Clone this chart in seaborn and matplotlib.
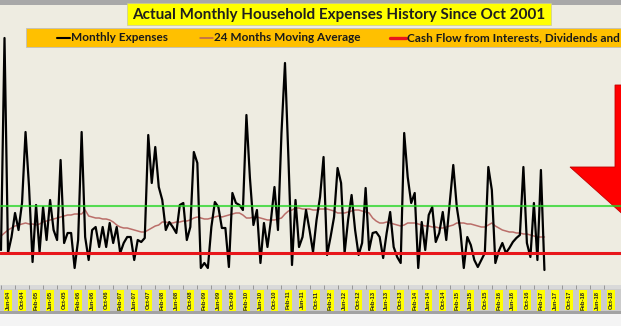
import numpy as np
import pandas as pd
import matplotlib
matplotlib.use("Agg")
import matplotlib.pyplot as plt
import seaborn as sns
from matplotlib.patches import Rectangle, Polygon
from matplotlib.lines import Line2D

# ---- data -------------------------------------------------------------
months = pd.date_range("2004-04-01", periods=156, freq="MS")

monthly_expenses = [
    2060, 6300, 2000, 2320, 2800, 2460, 3000, 4420, 3320, 1820,
    2960, 2020, 2920, 2260, 3060, 2460, 2260, 3860, 2200, 2400,
    2400, 1700, 2260, 4420, 2320, 1860, 2460, 2520, 2120, 2520,
    2120, 2600, 2200, 2520, 2000, 2200, 2320, 2320, 1860, 2260,
    2220, 2300, 4360, 3400, 4120, 3320, 3060, 2460, 2620, 2520,
    2400, 2960, 3000, 2260, 2520, 4020, 3800, 1700, 1800, 1700,
    2520, 3020, 2920, 2500, 2500, 1720, 3200, 3000, 2960, 2860,
    4760, 3500, 2560, 2860, 1800, 2600, 2120, 2660, 3320, 2460,
    4400, 5800, 3860, 1760, 3060, 2120, 2320, 2860, 2460, 2020,
    2660, 3120, 3920, 1960, 2320, 2720, 3700, 3400, 2000, 2660,
    3160, 2460, 1960, 2200, 3300, 2060, 2400, 2420, 2320, 1900,
    2400, 2820, 2120, 1920, 1800, 4400, 3520, 3000, 3200, 1700,
    2620, 2060, 2760, 2920, 2220, 2400, 2820, 2260, 3000, 3760,
    2920, 2460, 1700, 2320, 2160, 1860, 1720, 1860, 2000, 3720,
    3260, 1800, 2040, 2200, 2000, 2100, 2220, 2300, 2360, 3720,
    2200, 1920, 3000, 1860, 3660, 1660,
]

moving_average_24m = [
    2340, 2400, 2460, 2500, 2540, 2560, 2580, 2600, 2580, 2580,
    2560, 2580, 2620, 2640, 2660, 2680, 2700, 2720, 2740, 2760,
    2760, 2780, 2780, 2780, 2860, 2740, 2720, 2700, 2700, 2680,
    2680, 2660, 2620, 2560, 2520, 2500, 2500, 2480, 2460, 2440,
    2420, 2420, 2460, 2500, 2540, 2560, 2620, 2620, 2600, 2600,
    2620, 2620, 2640, 2640, 2660, 2700, 2720, 2700, 2680, 2680,
    2700, 2720, 2740, 2720, 2740, 2760, 2780, 2800, 2800, 2760,
    2700, 2700, 2720, 2720, 2700, 2680, 2660, 2660, 2660, 2680,
    2700, 2780, 2840, 2860, 2900, 2900, 2880, 2880, 2880, 2860,
    2860, 2880, 2880, 2880, 2860, 2840, 2800, 2800, 2800, 2820,
    2840, 2860, 2860, 2840, 2820, 2800, 2700, 2640, 2600, 2600,
    2620, 2600, 2580, 2560, 2540, 2560, 2600, 2600, 2600, 2580,
    2560, 2540, 2540, 2520, 2520, 2500, 2500, 2520, 2540, 2560,
    2600, 2600, 2600, 2580, 2580, 2560, 2540, 2520, 2520, 2560,
    2600, 2540, 2500, 2460, 2440, 2420, 2420, 2400, 2400, 2380,
    2380, 2360, 2340, 2320, 2320, 2320,
]

cash_flow_level = 2000      # cash flow from interests, dividends, ...
spending_limit = 2940       # green reference level

tick_dates = pd.date_range("2004-06-01", "2018-10-01", freq="4MS")
tick_labels = tick_dates.strftime("%b-%y").tolist()

title_text = "Actual Monthly Household Expenses History Since Oct 2001"
legend_labels = ["Monthly Expenses", "24 Months Moving Average",
                 "Cash Flow from Interests, Dividends and"]

# ---- styling ------------------------------------------------------------
sns.set_theme(style="white")
plt.rcParams["font.family"] = ["Lato", "DejaVu Sans"]
label_family = ["Liberation Sans Narrow", "Liberation Sans"]

W, H = 621, 326
fig = plt.figure(figsize=(W / 100, H / 100), dpi=100, facecolor="#F4F4F4")
renderer = fig.canvas.get_renderer()


def fx(x):
    return x / W


def fy(y):
    return 1 - y / H


def fit(t, length_px, vertical=False):
    bb = t.get_window_extent(renderer)
    cur = bb.height if vertical else bb.width
    t.set_fontsize(t.get_fontsize() * length_px / cur)
    return t.get_fontsize()


ax = fig.add_axes([0, fy(285), 1, 285 / H])
ax.set_facecolor("#EEECE1")

start = months[0]
df = pd.DataFrame({
    "pos": (months.year - start.year) * 12 + months.month - start.month,
    "expenses": monthly_expenses,
    "avg24": moving_average_24m,
})

sns.lineplot(data=df, x="pos", y="expenses", color="black", lw=1.6,
             ax=ax, zorder=4)
sns.lineplot(data=df, x="pos", y="avg24", color="#B5605C", lw=1.1,
             alpha=0.9, ax=ax, zorder=3)
ax.axhline(cash_flow_level, color="#E8161B", lw=2.2, zorder=5)
ax.axhline(spending_limit, color="#22D622", lw=1.5, alpha=0.75, zorder=6)

# big red "down" arrow at the right edge
arrow_px = [(615, 85), (679, 85), (679, 167), (724, 167), (647, 236),
            (570, 167), (615, 167)]
ax.add_patch(Polygon([(fx(x), fy(y)) for x, y in arrow_px], closed=True,
                     transform=fig.transFigure, fc="#FF0000", ec="#C00000",
                     lw=0.6, clip_on=False, zorder=5.5))

ax.set_xlim(-0.285, 176.84)
ax.set_ylim(1360, 7060)
ax.set_xlabel("")
ax.set_ylabel("")
ax.set_yticks([])
for s in ax.spines.values():
    s.set_visible(False)

# category labels: rotated, each on its own yellow tag
tick_pos = (tick_dates.year - start.year) * 12 + tick_dates.month - start.month
probe = fig.text(0, 0, tick_labels[0], rotation=90, fontsize=5,
                 fontweight="bold", family=label_family)
label_size = fit(probe, 19, vertical=True)
probe.remove()

ax.set_xticks(tick_pos)
ax.set_xticklabels(tick_labels, rotation=90, fontsize=label_size,
                   fontweight="bold", family=label_family,
                   color="#222222")
for lbl in ax.get_xticklabels():
    lbl.set_bbox(dict(boxstyle="square,pad=0.2", fc="#FFFF00", ec="none"))
ax.set_xticks(tick_pos - 2, minor=True)
ax.tick_params(axis="x", which="major", length=0, pad=4.2, bottom=True)
ax.tick_params(axis="x", which="minor", length=3, width=0.6,
               color="#8C8C8C", bottom=True, direction="out")

# bands around the category labels
for y0, y1, c in [(285, 289, "#D9D9D9"), (289, 311, "#CBCBCB"),
                  (311, 314, "#A3A3A3")]:
    fig.add_artist(Rectangle((0, fy(y1)), 1, (y1 - y0) / H,
                             transform=fig.transFigure, fc=c, ec="none",
                             zorder=-1))

# top strip and title
fig.add_artist(Rectangle((0, fy(5)), 1, 5 / H, transform=fig.transFigure,
                         fc="#A8A8A8", ec="none", zorder=1))
fig.add_artist(Rectangle((fx(127), fy(25)), (551 - 127) / W, 22 / H,
                         transform=fig.transFigure, fc="#FFFF00",
                         ec="#C8C8A0", lw=0.5, zorder=2))
title = fig.text(fx(339), fy(14.5), title_text, ha="center", va="center",
                 fontsize=11, fontweight="bold", color="#1F1F1F", zorder=3)
fit(title, 414)

# legend strip
fig.add_artist(Rectangle((fx(26), fy(47)), (660 - 26) / W, 19 / H,
                         transform=fig.transFigure, fc="#FFC000",
                         ec="#BFBFBF", lw=0.6, zorder=2))
leg_y = 37.5
entries = [((57, 70), 71, "black", 1.5, legend_labels[0]),
           ((200, 213), 214, "#B5605C", 1.1, legend_labels[1]),
           ((390, 406), 407, "#E8161B", 2.4, legend_labels[2])]
size = None
for (x0, x1), tx, col, lw, lab in entries:
    fig.add_artist(Line2D([fx(x0), fx(x1)], [fy(leg_y), fy(leg_y)],
                          transform=fig.transFigure, color=col, lw=lw,
                          zorder=3))
    t = fig.text(fx(tx), fy(leg_y), lab, ha="left", va="center",
                 fontsize=8, fontweight="bold", color="#1A1A1A", zorder=3)
    if size is None:
        size = fit(t, 97)
    else:
        t.set_fontsize(size)
    if lab == legend_labels[2]:
        # last entry runs to the right edge of the strip
        fit(t, 619 - tx)
        t.set_fontsize(min(t.get_fontsize(), size))

fig.savefig("out.png", dpi=100, facecolor=fig.get_facecolor())
